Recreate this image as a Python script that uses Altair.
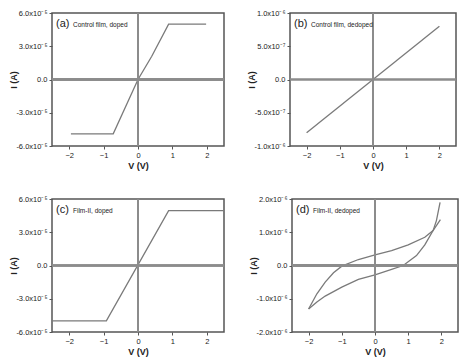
import altair as alt
import pandas as pd

FONT = "Liberation Sans"

# (a) Control film, doped
a_v = [-1.95, -0.72, 0.0, 0.4, 0.89, 1.98]
a_i = [-4.9e-5, -4.9e-5, 0.0, 2.1e-5, 5.0e-5, 5.0e-5]
# (b) Control film, dedoped
b_v = [-2.0, 2.0]
b_i = [-8.0e-7, 8.0e-7]
# (c) Film-II, doped
c_v = [-2.5, -0.92, 0.89, 2.5]
c_i = [-5.0e-5, -5.0e-5, 4.95e-5, 4.95e-5]
# (d) Film-II, dedoped (hysteresis loop, two branches)
d_up_v = [-2.0, -1.75, -1.5, -1.25, -1.0, -0.5, 0.0, 0.5, 1.0, 1.5, 1.75, 1.97]
d_up_i = [-1.31e-6, -0.85e-6, -0.5e-6, -0.22e-6, -0.02e-6, 0.18e-6, 0.32e-6, 0.45e-6, 0.62e-6, 0.85e-6, 1.05e-6, 1.38e-6]
d_lo_v = [-2.0, -1.75, -1.5, -1.0, -0.5, 0.0, 0.5, 0.85, 1.25, 1.5, 1.75, 1.85, 1.96]
d_lo_i = [-1.31e-6, -1.1e-6, -0.92e-6, -0.65e-6, -0.42e-6, -0.28e-6, -0.12e-6, 0.0, 0.3e-6, 0.62e-6, 1.05e-6, 1.35e-6, 1.9e-6]

x_ticks = [-2, -1, 0, 1, 2]
ticks_a = [-6e-5, -3e-5, 0.0, 3e-5, 6e-5]
labels_a = ["-6.0x10⁻⁵", "-3.0x10⁻⁵", "0.0", "3.0x10⁻⁵", "6.0x10⁻⁵"]
ticks_b = [-1e-6, -5e-7, 0.0, 5e-7, 1e-6]
labels_b = ["-1.0x10⁻⁶", "-5.0x10⁻⁷", "0.0", "5.0x10⁻⁷", "1.0x10⁻⁶"]
ticks_d = [-2e-6, -1e-6, 0.0, 1e-6, 2e-6]
labels_d = ["-2.0x10⁻⁶", "-1.0x10⁻⁶", "0.0", "1.0x10⁻⁶", "2.0x10⁻⁶"]


def make_df(series):
    rows = []
    for name, vs, is_ in series:
        for k, (v, i) in enumerate(zip(vs, is_)):
            rows.append({"V": v, "I": i, "s": name, "o": k})
    return pd.DataFrame(rows)


def label_expr(vals, labels):
    eps = abs(vals[-1]) * 1e-3
    expr = "''"
    for v, lab in reversed(list(zip(vals, labels))):
        expr = f"(abs(datum.value - ({v})) < {eps}) ? '{lab}' : {expr}"
    return expr


def panel(df, yvals, ylabels, tag, desc, w, h):
    x = alt.X(
        "V:Q",
        scale=alt.Scale(domain=[-2.5, 2.5], nice=False, zero=False),
        axis=alt.Axis(values=x_ticks, tickCount=10, format="d", title="V (V)",
                      titlePadding=3, labelOverlap=False),
    )
    y = alt.Y(
        "I:Q",
        scale=alt.Scale(domain=[yvals[0], yvals[-1]], nice=False),
        axis=alt.Axis(
            values=yvals, tickCount=10, labelExpr=label_expr(yvals, ylabels),
            title="I (A)", titleX=-34, labelOverlap=False,
        ),
    )
    base = alt.Chart(df)
    line = base.mark_line(color="#7a7a7a", strokeWidth=1.3).encode(
        x=x, y=y, detail="s:N", order="o:Q"
    )
    vz = base.mark_rule(color="#8c8c8c", strokeWidth=2).encode(x=alt.datum(0))
    hz = base.mark_rule(color="#8c8c8c", strokeWidth=2).encode(y=alt.datum(0))
    one = pd.DataFrame({"t": [0]})
    t1 = alt.Chart(one).mark_text(
        align="left", baseline="middle", fontSize=11, font=FONT, color="#222"
    ).encode(x=alt.value(4), y=alt.value(11), text=alt.value(tag))
    t2 = alt.Chart(one).mark_text(
        align="left", baseline="middle", fontSize=6.5, font=FONT, color="#222"
    ).encode(x=alt.value(21), y=alt.value(12), text=alt.value(desc))
    return alt.layer(line, vz, hz, t1, t2).properties(width=w, height=h)


H = 133
pa = panel(make_df([("a", a_v, a_i)]), ticks_a, labels_a, "(a)", "Control film, doped", 172, H)
pb = panel(make_df([("b", b_v, b_i)]), ticks_b, labels_b, "(b)", "Control film, dedoped", 166, H)
pc = panel(make_df([("c", c_v, c_i)]), ticks_a, labels_a, "(c)", "Film-II, doped", 172, H)
pd_ = panel(
    make_df([("up", d_up_v, d_up_i), ("lo", d_lo_v, d_lo_i)]),
    ticks_d, labels_d, "(d)", "Film-II, dedoped", 166, H,
)

chart = (
    alt.vconcat(
        alt.hconcat(pa, pb, spacing=20),
        alt.hconcat(pc, pd_, spacing=20),
        spacing=22,
    )
    .properties(padding=0, background="white")
    .configure_view(stroke="#555555", strokeWidth=1.5)
    .configure_axis(
        domain=False,
        grid=False,
        tickColor="#555555",
        tickSize=3,
        labelFont=FONT,
        titleFont=FONT,
        labelFontSize=7.5,
        titleFontSize=9,
        labelColor="#222222",
        titleColor="#222222",
        titleFontWeight="bold",
        labelPadding=2,
        labelFlush=False,
    )
)

chart.save("out.html", embed_options={"renderer": "svg", "actions": False})
